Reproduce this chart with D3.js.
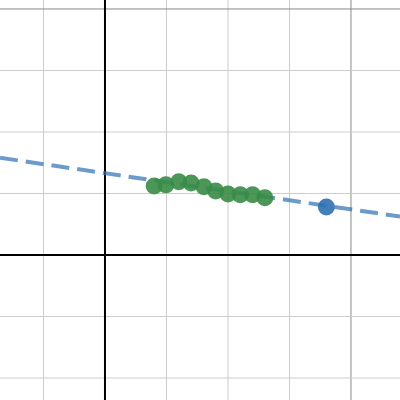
<!DOCTYPE html>
<html><head><script src="https://cdn.jsdelivr.net/npm/d3@7"></script>
<style>body{margin:0}svg{display:block}</style></head><body>
<script>
const greenX=[0.8,0.99,1.2,1.4,1.61,1.8,2.0,2.2,2.4,2.6];
const greenY=[1.12,1.14,1.19,1.17,1.11,1.04,0.99,0.98,0.98,0.93];
const blueX=[3.6], blueY=[0.78];
const lineSlope=-0.147, lineIntercept=1.33;
const gridTicks=[-2,-1,0,1,2,3,4,5];
const W=400,H=400;
const x=d3.scaleLinear().domain([-1.707,4.797]).range([0,W]);
const y=d3.scaleLinear().domain([-2.358,4.146]).range([H,0]);
const svg=d3.select("body").append("svg").attr("width",W).attr("height",H);
svg.append("rect").attr("width",W).attr("height",H).attr("fill","#fff");
svg.selectAll(".gx").data(gridTicks).join("line").attr("x1",d=>x(d)).attr("x2",d=>x(d)).attr("y1",0).attr("y2",H)
 .attr("stroke",d=>d===4?"#888":"#ccc").attr("stroke-width",1);
svg.selectAll(".gy").data(gridTicks).join("line").attr("y1",d=>y(d)).attr("y2",d=>y(d)).attr("x1",0).attr("x2",W)
 .attr("stroke",d=>d===4?"#888":"#ccc").attr("stroke-width",1);
svg.append("line").attr("x1",x(0)).attr("x2",x(0)).attr("y1",0).attr("y2",H).attr("stroke","#000").attr("stroke-width",2);
svg.append("line").attr("y1",y(0)).attr("y2",y(0)).attr("x1",0).attr("x2",W).attr("stroke","#000").attr("stroke-width",2);
const [x0,x1]=x.domain();
svg.append("line").attr("x1",x(x0)).attr("y1",y(lineIntercept+lineSlope*x0)).attr("x2",x(x1)).attr("y2",y(lineIntercept+lineSlope*x1))
 .attr("stroke","#2d70b3").attr("stroke-opacity",0.7).attr("stroke-width",4).attr("stroke-dasharray","18,8");
svg.selectAll(".g").data(greenX).join("circle").attr("cx",d=>x(d)).attr("cy",(d,i)=>y(greenY[i])).attr("r",8.5)
 .attr("fill","#388c46").attr("fill-opacity",0.9);
svg.selectAll(".b").data(blueX).join("circle").attr("cx",d=>x(d)).attr("cy",(d,i)=>y(blueY[i])).attr("r",8.5)
 .attr("fill","#2d70b3").attr("fill-opacity",0.9);
</script></body></html>
